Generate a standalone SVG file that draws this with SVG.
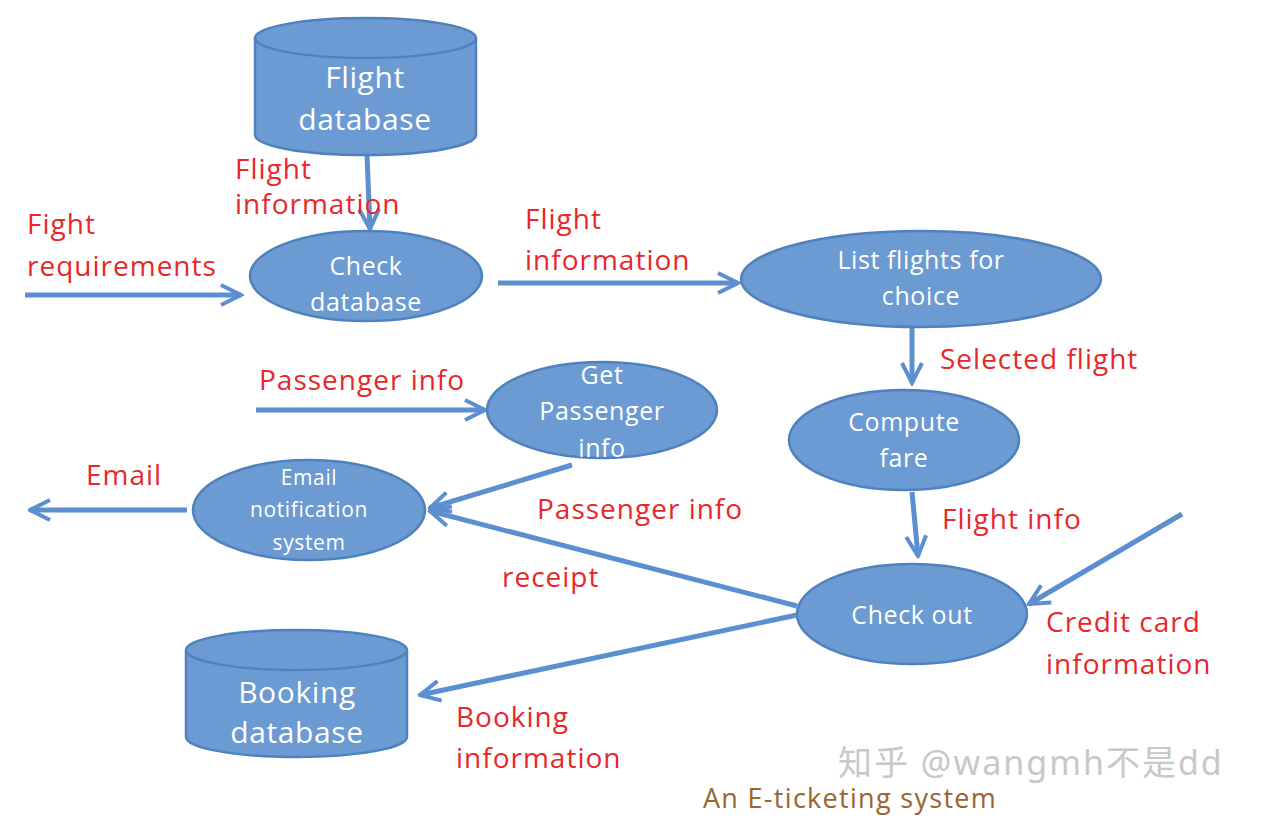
<svg xmlns="http://www.w3.org/2000/svg" width="1266" height="824" viewBox="0 0 1266 824">
<defs>
<style>
.n{fill:#6b9bd2;stroke:#4f81bd;stroke-width:2.5}
.t{fill:#fff;font-family:"Open Sans","DejaVu Sans",sans-serif;text-anchor:middle;letter-spacing:0.6px}
.l{fill:#e8272a;font-family:"Open Sans","DejaVu Sans",sans-serif;font-size:28px;letter-spacing:1px}
.c{stroke:#5b8fd0;stroke-width:5;fill:none;marker-end:url(#a)}
</style>
<marker id="a" viewBox="0 0 10 10" refX="9" refY="5" markerWidth="5" markerHeight="5" orient="auto" markerUnits="strokeWidth">
<polyline points="1,1 9,5 1,9" fill="none" stroke="#5b8fd0" stroke-width="1.6"/>
</marker>
</defs>
<rect width="1266" height="824" fill="#fff"/>
<g id="connectors">
<path class="c" d="M367,155 L370,229"/>
<path class="c" d="M25,295 L241,295"/>
<path class="c" d="M498,283 L738,283"/>
<path class="c" d="M912,328 L912,383"/>
<path class="c" d="M912,492 L918,556"/>
<path class="c" d="M1182,514 L1029,604"/>
<path class="c" d="M256,410 L485,410"/>
<path class="c" d="M572,465 L430,508"/>
<path class="c" d="M797,606 L430,511"/>
<path class="c" d="M187,510 L30,510"/>
<path class="c" d="M797,615 L420,695"/>
</g>
<g id="flightdb">
<path class="n" d="M255,38 L255,135 A110,20 0 0 0 476,135 L476,38"/>
<ellipse class="n" cx="365.5" cy="38" rx="110.5" ry="20"/>
<text class="t" x="365" y="88" font-size="30">Flight</text>
<text class="t" x="365" y="130" font-size="30">database</text>
</g>
<g id="checkdb"><ellipse class="n" cx="366" cy="276" rx="116" ry="45"/>
<text class="t" x="366" y="275" font-size="25">Check</text><text class="t" x="366" y="311" font-size="25">database</text></g>
<g id="listflights"><ellipse class="n" cx="921" cy="279" rx="180" ry="48"/>
<text class="t" x="921" y="269" font-size="25">List flights for</text><text class="t" x="921" y="305" font-size="25">choice</text></g>
<g id="computefare"><ellipse class="n" cx="904" cy="440" rx="115" ry="50"/>
<text class="t" x="904" y="431" font-size="25">Compute</text><text class="t" x="904" y="467" font-size="25">fare</text></g>
<g id="checkout"><ellipse class="n" cx="912" cy="614" rx="115" ry="50"/>
<text class="t" x="912" y="624" font-size="25">Check out</text></g>
<g id="getpassenger"><ellipse class="n" cx="602" cy="410" rx="115" ry="48"/>
<text class="t" x="602" y="384" font-size="25">Get</text><text class="t" x="602" y="420" font-size="25">Passenger</text><text class="t" x="602" y="457" font-size="25">info</text></g>
<g id="email"><ellipse class="n" cx="309" cy="510" rx="116" ry="50"/>
<text class="t" x="309" y="485" font-size="21">Email</text><text class="t" x="309" y="517" font-size="21">notification</text><text class="t" x="309" y="550" font-size="21">system</text></g>
<g id="bookingdb">
<path class="n" d="M186,650 L186,737 A110.5,20 0 0 0 407,737 L407,650"/>
<ellipse class="n" cx="296.5" cy="650" rx="110.5" ry="20"/>
<text class="t" x="297" y="703" font-size="30">Booking</text>
<text class="t" x="297" y="743" font-size="30">database</text>
</g>
<g id="labels">
<text class="l" x="235" y="179">Flight</text><text class="l" x="235" y="214">information</text>
<text class="l" x="27" y="234">Fight</text><text class="l" x="27" y="276">requirements</text>
<text class="l" x="525" y="229">Flight</text><text class="l" x="525" y="270">information</text>
<text class="l" x="940" y="369">Selected flight</text>
<text class="l" x="942" y="529">Flight info</text>
<text class="l" x="1046" y="632">Credit card</text><text class="l" x="1046" y="674">information</text>
<text class="l" x="259" y="390">Passenger info</text>
<text class="l" x="537" y="519">Passenger info</text>
<text class="l" x="502" y="587">receipt</text>
<text class="l" x="86" y="485">Email</text>
<text class="l" x="456" y="727">Booking</text><text class="l" x="456" y="768">information</text>
<text x="703" y="808" fill="#9a6432" font-family="'Open Sans','DejaVu Sans',sans-serif" font-size="27" letter-spacing="1.3">An E-ticketing system</text>
<text x="838" y="775" fill="#c8c8c8" font-family="'Noto Sans','Noto Sans CJK SC',sans-serif" font-size="34" letter-spacing="2">知乎 @wangmh不是dd</text>
</g>
</svg>
